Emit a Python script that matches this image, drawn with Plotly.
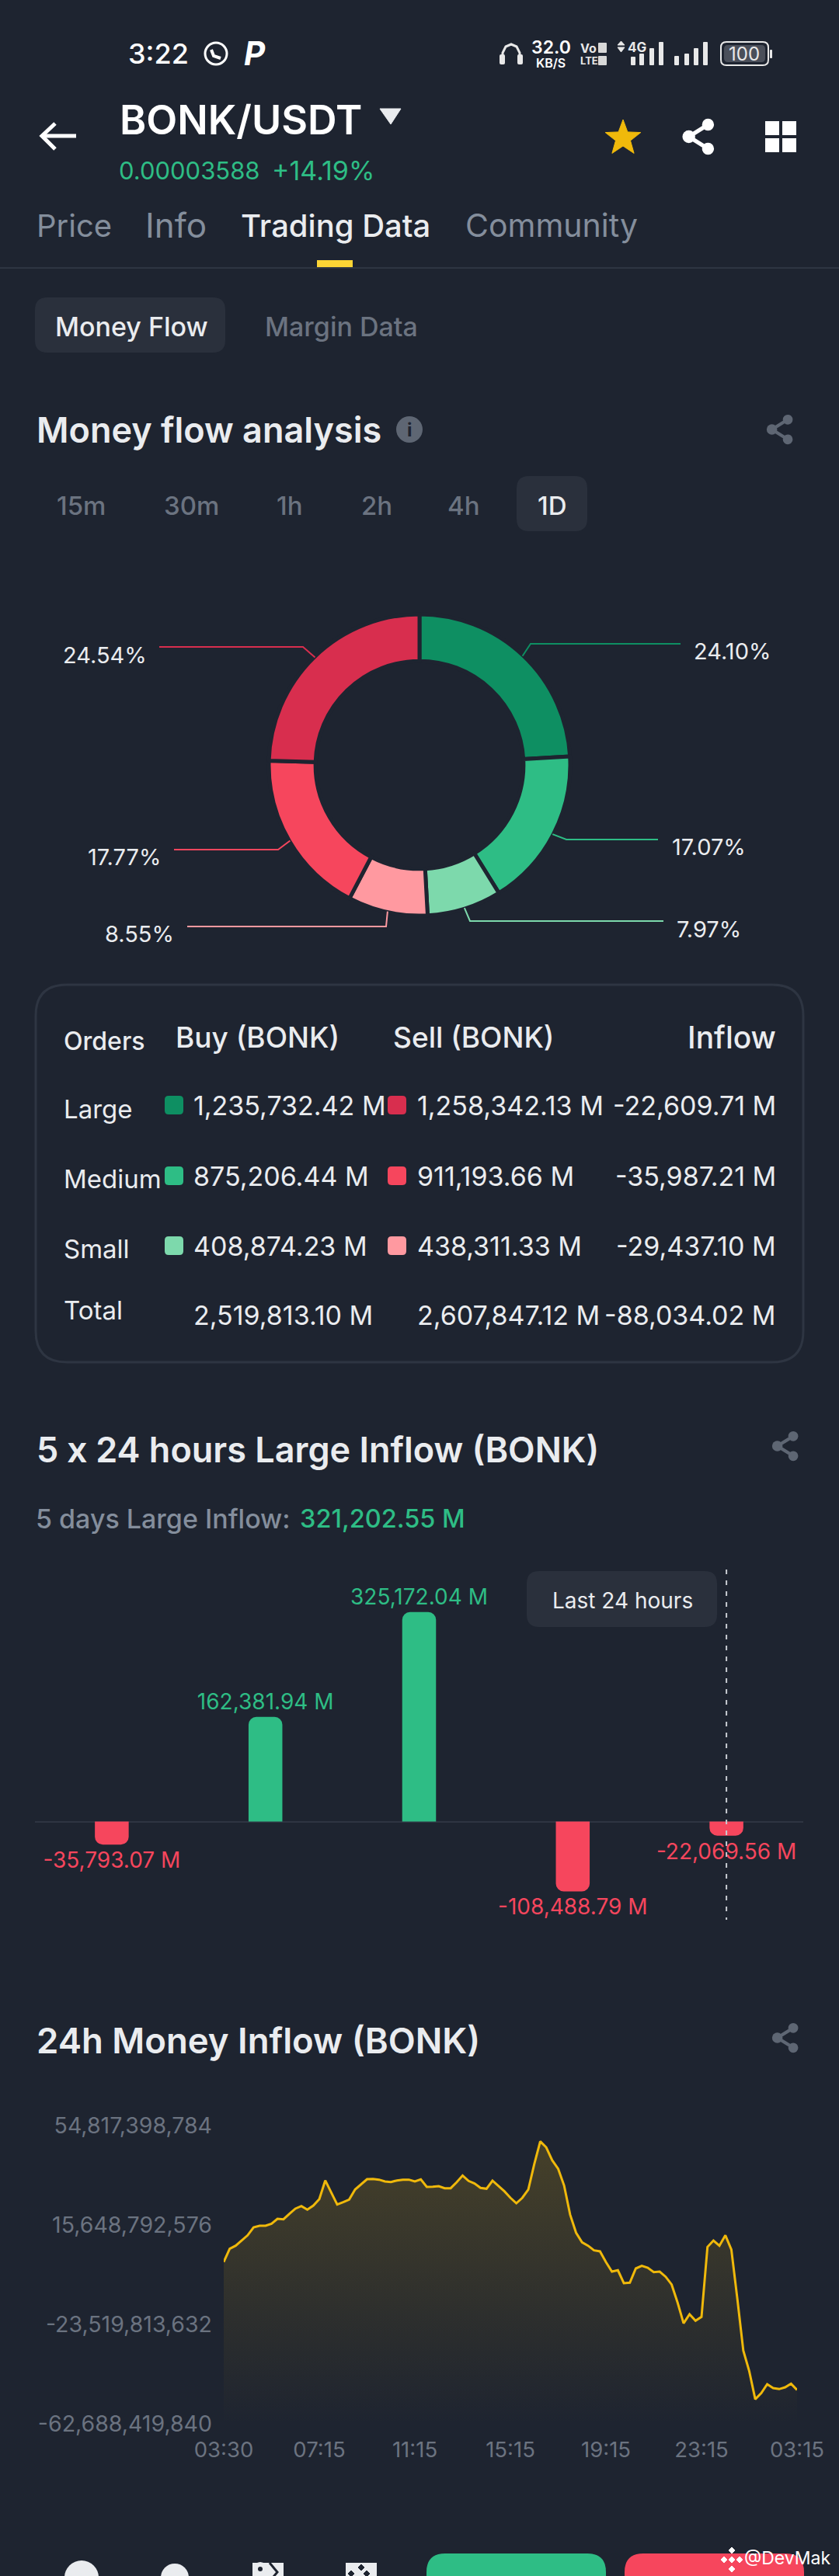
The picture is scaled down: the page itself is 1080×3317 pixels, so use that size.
"""Money flow screen for BONK/USDT, drawn with plotly."""

import math

import plotly.graph_objects as go

# Donut
donut_labels = ["Large buy", "Medium buy", "Small buy", "Small sell", "Medium sell", "Large sell"]
donut_values = [24.10, 17.07, 7.97, 8.55, 17.77, 24.54]
donut_text = ["24.10%", "17.07%", "7.97%", "8.55%", "17.77%", "24.54%"]
donut_colors = ["#0e8f62", "#2ebd85", "#7dd9ac", "#ff99a0", "#f6465d", "#d82e4e"]

# Orders table
order_rows = ["Large", "Medium", "Small", "Total"]
buy_text = ["1,235,732.42 M", "875,206.44 M", "408,874.23 M", "2,519,813.10 M"]
sell_text = ["1,258,342.13 M", "911,193.66 M", "438,311.33 M", "2,607,847.12 M"]
inflow_text = ["-22,609.71 M", "-35,987.21 M", "-29,437.10 M", "-88,034.02 M"]

# 5 x 24 hours large inflow, in M
bar_days = [0, 1, 2, 3, 4]
bar_values = [-35793.07, 162381.94, 325172.04, -108488.79, -22069.56]
bar_text = ["-35,793.07 M", "162,381.94 M", "325,172.04 M", "-108,488.79 M", "-22,069.56 M"]

# 24h money inflow, in billions
inflow_billions = [
    1.06, 6.27, 7.49, 9.53, 11.57, 14.73, 15.34, 15.34, 16.16, 18.10,
    17.89, 20.04, 22.08, 23.10, 21.67, 23.30, 25.85, 33.19, 28.40, 23.71,
    24.63, 25.65, 29.62, 31.66, 33.70, 33.81, 33.50, 32.79, 32.58, 33.19,
    33.50, 33.50, 32.79, 33.60, 30.64, 30.75, 30.95, 30.13, 30.13, 32.48,
    35.13, 32.99, 31.97, 30.24, 29.93, 33.09, 30.95, 28.91, 26.36, 24.22,
    26.36, 29.62, 39.62, 48.60, 46.25, 41.15, 37.78, 31.15, 19.73, 12.59,
    8.82, 7.49, 5.65, 5.25, 1.06, -2.71, -2.20, -7.30, -7.10, -1.49,
    -0.47, -1.18, -2.92, -2.71, -4.75, -7.81, -14.95, -23.11, -19.54, -22.09,
    -20.56, 6.98, 9.53, 7.49, 11.57, 5.96, -13.42, -33.82, -41.98, -53.00,
    -50.65, -47.08, -48.61, -49.02, -48.31, -46.88, -49.33,
]
inflow_ticks = [54817398784, 15648792576, -23519813632, -62688419840]
inflow_tick_text = ["54,817,398,784", "15,648,792,576", "-23,519,813,632", "-62,688,419,840"]
time_ticks = [0, 16, 32, 48, 64, 80, 96]
time_tick_text = ["03:30", "07:15", "11:15", "15:15", "19:15", "23:15", "03:15"]

WIDTH = 1080
HEIGHT = 3317
BG = "#1e2430"
PILL = "#2a303c"
BORDER = "#2e3542"
WHITE = "#eaecef"
GREY = "#848e9c"
DIM = "#6b7380"
GREEN = "#2ebd85"
RED = "#f6465d"
YELLOW = "#f0b90b"
FONT = "Inter"

shapes = []
notes = []


def label(x, y, text, size, color=WHITE, anchor="left", weight=400, font=FONT):
    """Add a text at page pixel position (x, y)."""
    notes.append(dict(
        x=x, y=y, xref="x3", yref="y3", text=text, showarrow=False,
        xanchor=anchor, yanchor="middle", borderpad=0,
        font=dict(family=font, size=size, color=color, weight=weight),
    ))


def box(x0, y0, x1, y1, color, radius=0, line=None, width=2, layer="below"):
    """Add a filled rectangle with rounded corners, in page pixels."""
    r = radius
    path = (
        f"M {x0 + r} {y0} L {x1 - r} {y0} Q {x1} {y0} {x1} {y0 + r} "
        f"L {x1} {y1 - r} Q {x1} {y1} {x1 - r} {y1} "
        f"L {x0 + r} {y1} Q {x0} {y1} {x0} {y1 - r} "
        f"L {x0} {y0 + r} Q {x0} {y0} {x0 + r} {y0} Z"
    )
    shapes.append(dict(
        type="path", path=path, xref="x3", yref="y3", fillcolor=color, layer=layer,
        line=dict(color=line or color, width=width if line else 0),
    ))


def stroke(points, color, width=2, dash="solid", fill=None):
    """Add a polyline through page pixel points."""
    path = "M " + " L ".join(f"{x} {y}" for x, y in points)
    if fill:
        path += " Z"
    shapes.append(dict(
        type="path", path=path, xref="x3", yref="y3", fillcolor=fill, layer="above",
        line=dict(color=color, width=width, dash=dash),
    ))


def dot(cx, cy, r, color, line=None, width=0):
    """Add a circle, in page pixels."""
    shapes.append(dict(
        type="circle", xref="x3", yref="y3", x0=cx - r, x1=cx + r, y0=cy - r, y1=cy + r,
        fillcolor=color, layer="above", line=dict(color=line or color, width=width),
    ))


def share_icon(cx, cy, color, scale=1.0):
    """Three connected dots."""
    right = cx + 13 * scale
    left = cx - 11 * scale
    top = cy - 15 * scale
    bottom = cy + 15 * scale
    stroke([(right, top), (left, cy), (right, bottom)], color, 5 * scale)
    dot(right, top, 7.5 * scale, color)
    dot(left, cy, 8 * scale, color)
    dot(right, bottom, 7.5 * scale, color)


# status bar
label(164, 69, "3:22", 36, "#ffffff", weight=500)
dot(278, 69, 14, BG, line="#ffffff", width=3)
stroke([(272, 64), (275, 72), (284, 75)], "#ffffff", 4)
label(313, 68, "<b><i>P</i></b>", 42, "#ffffff")
stroke([(647, 78), (647, 68), (651, 60), (658, 57), (665, 60), (669, 68), (669, 78)], "#e8e8e8", 3)
box(643, 70, 650, 83, "#e8e8e8", 2, layer="above")
box(666, 70, 673, 83, "#e8e8e8", 2, layer="above")
label(709, 61, "32.0", 23, "#ffffff", "center", 600)
label(709, 81, "KB/S", 16, "#ffffff", "center", 600)
label(746, 62, "Vo", 16, "#e8e8e8", "left", 700)
label(746, 78, "LTE", 13, "#e8e8e8", "left", 700)
box(770, 55, 781, 68, "#d8d8d8", 1, layer="above")
box(770, 72, 781, 84, "#d8d8d8", 1, layer="above")
stroke([(795, 58), (804, 58), (799.5, 53)], "#e8e8e8", 1, fill="#e8e8e8")
stroke([(795, 61), (804, 61), (799.5, 67)], "#e8e8e8", 1, fill="#e8e8e8")
label(807, 61, "4G", 17, "#e8e8e8", "left", 700)
for x0, y0 in [(812, 73), (823, 69), (836, 62), (848, 54), (868, 72), (881, 69), (893, 62), (905, 54)]:
    box(x0, y0, x0 + 6, 84, "#e8e8e8", 1, layer="above")
box(928, 54, 989, 84, "#1e2430", 7, line="#e8e8e8", width=2, layer="above")
box(932, 58, 985, 80, "#4a4f5a", 5, layer="above")
box(991, 64, 994, 75, "#e8e8e8", 1, layer="above")
label(958, 69, "100", 24, "#e8e8e8", "center")

# header
stroke([(98, 175), (55, 175)], "#ffffff", 5)
stroke([(71, 159), (54, 175), (71, 192)], "#ffffff", 5)
label(153, 154, "BONK/USDT", 52, "#ffffff", weight=600)
stroke([(489, 140), (516, 140), (503, 160)], WHITE, 1, fill=WHITE)
label(152, 219, "0.00003588", 31, GREEN)
label(349, 219, "+14.19%", 34, GREEN)
star = []
for k in range(10):
    radius = 24 if k % 2 == 0 else 10
    angle = math.pi * k / 5
    star.append((802 + radius * math.sin(angle), 178 - radius * math.cos(angle)))
stroke(star, YELLOW, 1, fill=YELLOW)
share_icon(898, 176, "#ffffff", 1.03)
for x0, y0 in [(985, 156), (1007, 156), (985, 178), (1007, 178)]:
    box(x0, y0, x0 + 18, y0 + 18, "#ffffff", 0, layer="above")

# tabs
label(46, 290, "Price", 40, GREY)
label(186, 290, "Info", 44, GREY)
label(309, 290, "Trading Data", 40, WHITE, weight=500)
label(598, 290, "Community", 41, GREY)
box(408, 335, 454, 344, "#fcd535")
box(0, 344, WIDTH, 346, "#2e3542")
box(45, 383, 290, 454, PILL, 16)
label(70, 420, "Money Flow", 34, WHITE, weight=500)
label(340, 420, "Margin Data", 34, DIM, weight=500)

# money flow analysis
label(46, 553, "Money flow analysis", 45, WHITE, weight=600)
dot(527, 553, 17, "#5e6673")
label(527, 553, "<b>i</b>", 24, BG, "center")
share_icon(1003, 553, "#5e6673", 0.85)
for text, x in zip(["15m", "30m", "1h", "2h", "4h"], [104, 246, 373, 485, 597]):
    label(x, 651, text, 33, DIM, "center", 500)
box(665, 613, 756, 684, PILL, 16)
label(711, 651, "1D", 33, WHITE, "center", 500)

# donut leaders, start follows the slice middle
elbows = [(683, 829), (729, 1081), (605, 1186), (497, 1193), (358, 1094), (390, 833)]
ends = [(876, 829), (847, 1081), (854, 1186), (241, 1193), (224, 1094), (205, 833)]
note_spots = [(892, 838, "left"), (864, 1090, "left"), (870, 1196, "left"),
              (225, 1202, "right"), (208, 1103, "right"), (190, 843, "right")]
total = sum(donut_values)
running = 0
for value, color, text, elbow, end, spot in zip(donut_values, donut_colors, donut_text, elbows, ends, note_spots):
    angle = 2 * math.pi * (running + value / 2) / total
    running += value
    start = (540 + 193 * math.sin(angle), 985 - 193 * math.cos(angle))
    stroke([start, elbow, end], color, 2)
    label(spot[0], spot[1], text, 29, WHITE, spot[2])

# orders table
box(46, 1268, 1034, 1754, BG, 40, line=BORDER, width=3)
label(81, 1340, "Orders", 32, WHITE, weight=500)
label(225, 1335, "Buy (BONK)", 37, WHITE, weight=500)
label(505, 1335, "Sell (BONK)", 37, WHITE, weight=500)
label(1000, 1335, "Inflow", 39, WHITE, "right", 500)
row_y = [1423, 1514, 1604, 1693]
name_y = [1428, 1518, 1608, 1687]
for i, name in enumerate(order_rows):
    label(81, name_y[i], name, 33, WHITE)
    label(248, row_y[i], buy_text[i], 34, WHITE)
    label(536, row_y[i], sell_text[i], 34, WHITE)
    label(1000, row_y[i], inflow_text[i], 34, WHITE, "right")
    if i < 3:
        box(212, row_y[i] - 12, 236, row_y[i] + 12, donut_colors[i], 5, layer="above")
        box(499, row_y[i] - 12, 523, row_y[i] + 12, donut_colors[5 - i], 5, layer="above")

# 5 x 24 section, the Noto span keeps Inter from turning the x into a times sign
label(46, 1865, "5 <span style=\"font-family:'Noto Sans'\">x</span> 24 hours Large Inflow (BONK)", 45, WHITE, weight=600)
share_icon(1010, 1862, "#5e6673", 0.85)
label(45, 1955, "5 days Large Inflow:", 34, GREY, weight=500)
label(385, 1955, "321,202.55 M", 32.5, GREEN, weight=500)
box(678, 2023, 923, 2095, PILL, 16)
label(801, 2061, "Last 24 hours", 28, WHITE, "center")

# 24h section
label(46, 2627, "24h Money Inflow (BONK)", 45.5, WHITE, weight=600)
share_icon(1010, 2624, "#5e6673", 0.85)

# bottom bar
dot(105, 3319, 22, WHITE)
dot(225, 3319, 18, WHITE)
box(325, 3300, 365, 3330, WHITE, 0, layer="above")
dot(335, 3308, 8, BG)
dot(335, 3308, 9, WHITE)
dot(335, 3308, 3, BG)
stroke([(347, 3300), (357, 3312), (347, 3324)], BG, 3)
box(445, 3300, 485, 3330, WHITE, 0, layer="above")
stroke([(465, 3302), (469, 3306), (465, 3310), (461, 3306)], BG, 1, fill=BG)
stroke([(452, 3310), (456, 3314), (452, 3318), (448, 3314)], BG, 1, fill=BG)
stroke([(472, 3310), (476, 3314), (472, 3318), (468, 3314)], BG, 1, fill=BG)
box(549, 3288, 780, 3340, GREEN, 24, layer="above")
box(804, 3288, 1035, 3340, RED, 24, layer="above")
for dx, dy in [(0, -12), (-10, 0), (10, 0), (0, 12), (0, 0)]:
    cx, cy = 942 + dx, 3296 + dy
    stroke([(cx, cy - 4), (cx + 4, cy), (cx, cy + 4), (cx - 4, cy)], "#ffffff", 1, fill="#ffffff")
label(957, 3294, "@DevMak", 23, "#ffffff")

fig = go.Figure()

fig.add_trace(go.Pie(
    labels=donut_labels,
    values=donut_values,
    sort=False,
    direction="clockwise",
    rotation=0,
    hole=0.69,
    textinfo="none",
    showlegend=False,
    hoverinfo="skip",
    marker=dict(colors=donut_colors, line=dict(color=BG, width=5)),
    domain=dict(x=[346 / WIDTH, 734 / WIDTH], y=[1 - 1179 / HEIGHT, 1 - 791 / HEIGHT]),
))

fig.add_trace(go.Bar(
    x=bar_days,
    y=bar_values,
    width=0.22,
    text=bar_text,
    textposition="outside",
    textangle=0,
    constraintext="none",
    cliponaxis=False,
    textfont=dict(family=FONT, size=28, color=[RED if v < 0 else GREEN for v in bar_values]),
    marker=dict(color=[RED if v < 0 else GREEN for v in bar_values], line=dict(width=0)),
    hoverinfo="skip",
    showlegend=False,
    xaxis="x",
    yaxis="y",
))

inflow_values = [v * 1e9 for v in inflow_billions]
steps = list(range(len(inflow_values)))

fig.add_trace(go.Scatter(
    x=steps,
    y=[inflow_ticks[-1]] * len(steps),
    mode="lines",
    line=dict(width=0),
    hoverinfo="skip",
    showlegend=False,
    xaxis="x2",
    yaxis="y2",
))
fig.add_trace(go.Scatter(
    x=steps,
    y=inflow_values,
    mode="lines",
    line=dict(color=YELLOW, width=3),
    fill="tonexty",
    fillgradient=dict(
        type="vertical",
        colorscale=[[0, "rgba(240,185,11,0)"], [1, "rgba(240,185,11,0.2)"]],
        start=inflow_ticks[-1],
        stop=inflow_ticks[0],
    ),
    hoverinfo="skip",
    showlegend=False,
    xaxis="x2",
    yaxis="y2",
))

# page overlay axis: keeps screen furniture in pixels
fig.add_trace(go.Scatter(x=[0], y=[0], mode="markers", marker=dict(opacity=0), hoverinfo="skip",
                         showlegend=False, xaxis="x3", yaxis="y3"))

# dashed marker of the last day
shapes.append(dict(
    type="line", xref="x", yref="y3", x0=4, x1=4, y0=2021, y1=2472, layer="above",
    line=dict(color="#c8ccd2", width=2, dash="6px,8px"),
))

bar_zero_y = 2345.5
bar_top = 2040
bar_bottom = 2480
M_PER_PIXEL = 1206

fig.update_layout(
    template="none",
    width=WIDTH,
    height=HEIGHT,
    margin=dict(l=0, r=0, t=0, b=0),
    paper_bgcolor=BG,
    plot_bgcolor="rgba(0,0,0,0)",
    font=dict(family=FONT, color=WHITE),
    barcornerradius=10,
    hovermode=False,
    shapes=shapes,
    annotations=notes,
    xaxis=dict(
        domain=[45 / WIDTH, 1034 / WIDTH], range=[-0.5, 4.5], automargin=False,
        showgrid=False, zeroline=False, showticklabels=False, ticks="",
    ),
    yaxis=dict(
        domain=[1 - bar_bottom / HEIGHT, 1 - bar_top / HEIGHT], automargin=False,
        range=[-(bar_bottom - bar_zero_y) * M_PER_PIXEL, (bar_zero_y - bar_top) * M_PER_PIXEL],
        showgrid=False, showticklabels=False, ticks="",
        zeroline=True, zerolinecolor=BORDER, zerolinewidth=2,
    ),
    xaxis2=dict(
        domain=[288 / WIDTH, 1026 / WIDTH], range=[0, 96], anchor="y2", automargin=False,
        tickmode="array", tickvals=time_ticks, ticktext=time_tick_text,
        tickfont=dict(family=FONT, size=27.5, color=DIM), ticks="",
        showgrid=False, zeroline=False, showline=False, ticklabelstandoff=14,
    ),
    yaxis2=dict(
        domain=[1 - 3121 / HEIGHT, 1 - 2737 / HEIGHT], automargin=False,
        range=[inflow_ticks[-1], inflow_ticks[0]], anchor="x2",
        tickmode="array", tickvals=inflow_ticks, ticktext=inflow_tick_text,
        tickfont=dict(family=FONT, size=28.5, color=DIM), ticks="",
        showgrid=False, zeroline=False, showline=False, ticklabelstandoff=14,
    ),
    xaxis3=dict(domain=[0, 1], range=[0, WIDTH], visible=False, anchor="y3", fixedrange=True),
    yaxis3=dict(domain=[0, 1], range=[HEIGHT, 0], visible=False, anchor="x3", fixedrange=True),
)

fig.write_html(
    "out.html",
    config=dict(displayModeBar=False, staticPlot=True),
    post_script="document.body.style.margin='0';document.body.style.background='" + BG + "';",
)
